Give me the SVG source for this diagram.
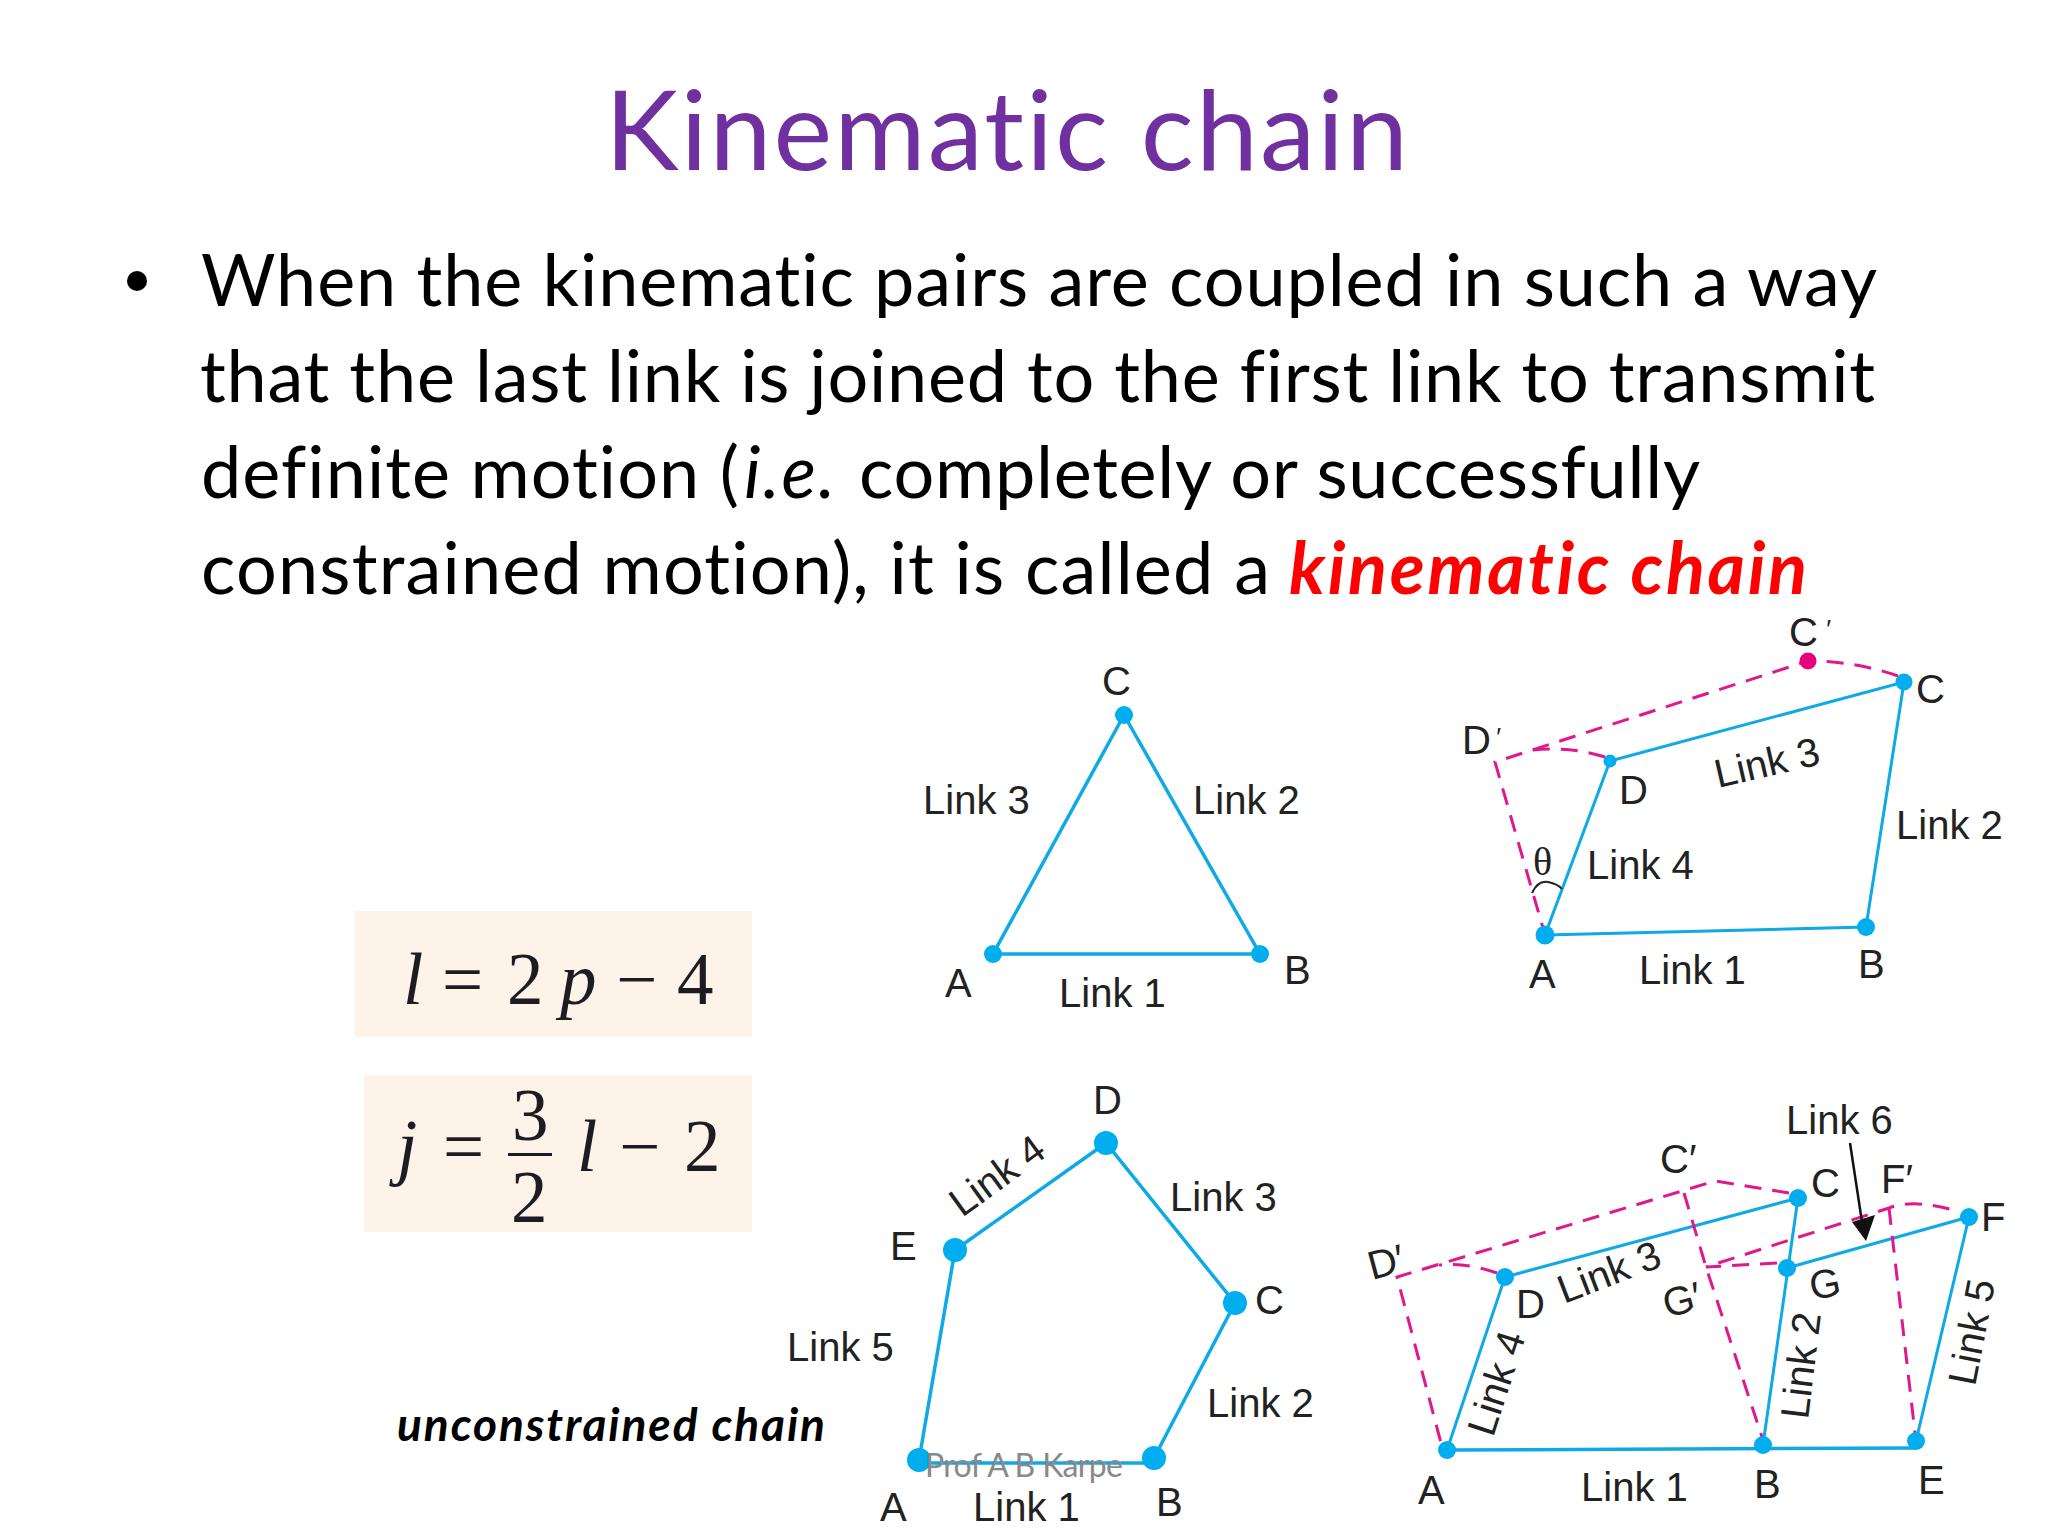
<svg xmlns="http://www.w3.org/2000/svg" width="2048" height="1536" viewBox="0 0 2048 1536">
<defs>
<style>
.t{font-family:"Lato","Carlito","Open Sans",sans-serif;fill:#000;font-variant-ligatures:none}
.body{font-size:72px}
.lab{font-family:"Liberation Sans",Arial,sans-serif;fill:#222;font-size:40px}
.pr{font-size:26px}
.m{font-family:"Liberation Serif","Times New Roman",serif;font-size:73px;fill:#1c1c22}
.i{font-style:italic}
.solid{fill:none;stroke:#0fa9e6;stroke-width:3.5}
.thin{fill:none;stroke:#0fa9e6;stroke-width:3}
.dash{fill:none;stroke:#e0188c;stroke-width:3;stroke-dasharray:17 11}
.j{fill:#00aeef}
</style>
</defs>
<rect width="2048" height="1536" fill="#fff"/>

<g id="title"><text class="t" x="605" y="170" font-size="111" style="fill:#7030a0" textLength="803">Kinematic chain</text></g>

<g id="body">
<circle cx="137" cy="281" r="10" fill="#000"/>
<text class="t body" x="201" y="306" textLength="1676">When the kinematic pairs are coupled in such a way</text>
<text class="t body" x="200" y="402" textLength="1675">that the last link is joined to the first link to transmit</text>
<text class="t body" x="201" y="498" textLength="538">definite motion (</text>
<text class="t body i" x="744" y="498" textLength="91">i.e.</text>
<text class="t body" x="859" y="498" textLength="841">completely or successfully</text>
<text class="t body" x="201" y="594" textLength="1069">constrained motion), it is called a</text>
<text class="t body i" x="1289" y="594" font-weight="700" style="fill:#f00" textLength="518">kinematic chain</text>
</g>

<g id="formula-1">
<rect x="355" y="911" width="397" height="126" fill="#fdf3e9"/>
<text class="m i" x="403" y="1004">l</text><text class="m" x="442" y="1004">=</text><text class="m" x="507" y="1004">2</text><text class="m i" x="560" y="1004">p</text><text class="m" x="616" y="1004">−</text><text class="m" x="677" y="1004">4</text>
</g>
<g id="formula-2">
<rect x="364" y="1075" width="388" height="157" fill="#fdf3e9"/>
<text class="m i" x="397" y="1171">j</text><text class="m" x="443" y="1171">=</text><text class="m" x="512" y="1140">3</text><rect x="508" y="1153" width="44" height="3" fill="#1c1c22"/><text class="m" x="511" y="1222">2</text><text class="m i" x="577" y="1171">l</text><text class="m" x="619" y="1171">−</text><text class="m" x="684" y="1171">2</text>
</g>
<g id="caption"><text class="t i" x="397" y="1441" font-size="46" font-weight="700" textLength="428">unconstrained chain</text></g>

<g id="connectors">
<path class="solid" d="M993 954H1260L1124 715Z"/>
<path class="thin" d="M1545 935L1866 927L1904 682L1610 761Z"/>
<path class="dash" d="M1898 676Q1855 661 1808 661L1495 762L1543 928"/>
<path class="dash" d="M1605 757Q1570 746 1532 750"/>
<path d="M1532 893Q1538 880 1548 882Q1558 884 1562 889" fill="none" stroke="#222" stroke-width="2"/>
<path class="solid" d="M919 1460L955 1250L1106 1143L1235 1303L1154 1458L1148 1463H919"/>
<path class="thin" d="M1447 1450L1505 1277L1798 1198L1763 1445"/>
<path class="solid" d="M1447 1450L1916 1448"/>
<path class="thin" d="M1787 1268L1969 1217L1916 1441"/>
<path class="dash" d="M1789 1193L1715 1181L1397 1277L1441 1443"/>
<path class="dash" d="M1497 1273Q1465 1262 1439 1265"/>
<path class="dash" d="M1684 1193L1706 1267L1762 1437"/>
<path class="dash" d="M1777 1263L1706 1267L1889 1208Q1915 1198 1960 1212"/>
<path class="dash" d="M1889 1208L1915 1433"/>
<path d="M1850 1143L1862 1222" stroke="#111" stroke-width="2.5" fill="none"/>
<path d="M1852 1222L1875 1215L1866 1241Z" fill="#111"/>
</g>

<g id="mech-triangle">
<circle class="j" cx="1124" cy="715" r="9"/><circle class="j" cx="993" cy="954" r="9"/><circle class="j" cx="1260" cy="954" r="9"/>
<text class="lab" x="1102" y="695">C</text><text class="lab" x="945" y="997">A</text><text class="lab" x="1284" y="984">B</text>
<text class="lab" x="923" y="814">Link 3</text><text class="lab" x="1193" y="814">Link 2</text><text class="lab" x="1059" y="1007">Link 1</text>
</g>

<g id="mech-four-bar">
<circle class="j" cx="1545" cy="935" r="9.5"/><circle class="j" cx="1866" cy="927" r="9"/><circle class="j" cx="1904" cy="682" r="8.5"/><circle class="j" cx="1610" cy="761" r="6.5"/>
<circle cx="1808" cy="661" r="8.5" fill="#e6007e"/>
<text class="lab" x="1789" y="646">C</text><text class="lab pr i" x="1825" y="638" style="font-size:26px">′</text>
<text class="lab" x="1916" y="703">C</text>
<text class="lab" x="1462" y="754">D</text><text class="lab pr i" x="1495" y="746" style="font-size:26px">′</text>
<text class="lab" x="1619" y="804">D</text>
<text class="lab" transform="translate(1718 788) rotate(-13)">Link 3</text>
<text class="lab" x="1896" y="839">Link 2</text><text class="lab" x="1587" y="879">Link 4</text><text class="lab" x="1639" y="984">Link 1</text>
<text class="lab" x="1529" y="988">A</text><text class="lab" x="1858" y="978">B</text>
<text x="1533" y="875" font-family="Liberation Serif,serif" font-size="40" fill="#222">θ</text>
</g>

<g id="mech-pentagon">
<circle class="j" cx="1106" cy="1143" r="12"/><circle class="j" cx="955" cy="1250" r="12"/><circle class="j" cx="1235" cy="1303" r="12"/><circle class="j" cx="1154" cy="1458" r="12"/><circle class="j" cx="919" cy="1460" r="12"/>
<text class="lab" x="1093" y="1114">D</text><text class="lab" x="890" y="1260">E</text><text class="lab" x="1255" y="1314">C</text>
<text class="lab" x="1170" y="1211">Link 3</text>
<text class="lab" transform="translate(962 1218) rotate(-36)">Link 4</text>
<text class="lab" x="787" y="1361">Link 5</text><text class="lab" x="1207" y="1417">Link 2</text><text class="lab" x="973" y="1521">Link 1</text>
<text class="lab" x="880" y="1521">A</text><text class="lab" x="1156" y="1516">B</text>
<text class="t" x="925" y="1477" font-size="32" style="fill:#898989" textLength="198">Prof A B Karpe</text>
</g>

<g id="mech-six-bar">
<circle class="j" cx="1447" cy="1450" r="9"/><circle class="j" cx="1763" cy="1445" r="9"/><circle class="j" cx="1916" cy="1441" r="9"/><circle class="j" cx="1969" cy="1217" r="9"/><circle class="j" cx="1798" cy="1198" r="9"/><circle class="j" cx="1505" cy="1277" r="9"/><circle class="j" cx="1787" cy="1268" r="9"/>
<text class="lab" x="1786" y="1134">Link 6</text>
<text class="lab" x="1660" y="1173">C′</text><text class="lab" x="1811" y="1197">C</text><text class="lab" x="1881" y="1193">F′</text><text class="lab" x="1981" y="1231">F</text>
<text class="lab" transform="translate(1372 1280) rotate(-15)">D′</text><text class="lab" x="1516" y="1318">D</text>
<text class="lab" transform="translate(1564 1304) rotate(-21)">Link 3</text>
<text class="lab" transform="translate(1667 1318) rotate(-15)">G′</text>
<text class="lab" transform="translate(1812 1300) rotate(-10)">G</text>
<text class="lab" transform="translate(1493 1438) rotate(-72)">Link 4</text>
<text class="lab" transform="translate(1808 1420) rotate(-83)">Link 2</text>
<text class="lab" transform="translate(1975 1387) rotate(-79)">Link 5</text>
<text class="lab" x="1581" y="1501">Link 1</text>
<text class="lab" x="1418" y="1504">A</text><text class="lab" x="1754" y="1498">B</text><text class="lab" x="1918" y="1494">E</text>
</g>
</svg>
